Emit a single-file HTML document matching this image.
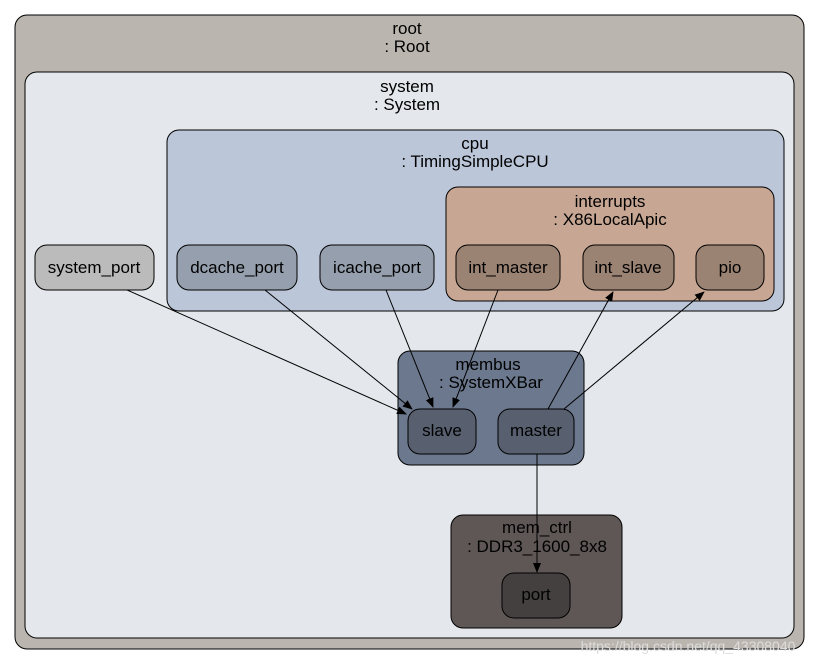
<!DOCTYPE html>
<html><head><style>body{margin:0;background:#fff}svg{display:block}text{font-family:"Liberation Sans",Arial,sans-serif;font-size:17px;fill:#000;text-anchor:middle}</style></head><body>
<svg width="819" height="664" viewBox="0 0 819 664">
<defs><marker id="a" markerWidth="10" markerHeight="8" refX="9" refY="4" orient="auto" markerUnits="userSpaceOnUse"><path d="M0,0L10,4L0,8z" fill="#000"/></marker></defs>
<g stroke="#000" stroke-width="1">
<rect x="15" y="15" width="789" height="634" rx="12" fill="#bab5ae"/>
<rect x="25" y="72" width="769" height="566" rx="12" fill="#e4e7eb"/>
<rect x="167" y="130" width="617" height="181" rx="12" fill="#bbc6d9"/>
<rect x="446" y="187" width="328" height="114" rx="12" fill="#c7a793"/>
<rect x="35" y="245" width="119" height="45" rx="12" fill="#bbbbbb"/>
<rect x="177" y="245" width="120" height="45" rx="12" fill="#959fad"/>
<rect x="320" y="245" width="114" height="45" rx="12" fill="#959fad"/>
<rect x="456" y="245" width="104" height="45" rx="12" fill="#9b8374"/>
<rect x="583" y="245" width="91" height="45" rx="12" fill="#9b8374"/>
<rect x="696" y="245" width="68" height="45" rx="12" fill="#9b8374"/>
<rect x="398" y="351" width="186" height="114" rx="12" fill="#6b788d"/>
<rect x="408" y="409" width="68" height="45" rx="12" fill="#586070"/>
<rect x="498" y="409" width="76" height="45" rx="12" fill="#586070"/>
<rect x="451" y="515" width="171" height="113" rx="12" fill="#5e5756"/>
<rect x="502" y="573" width="68" height="45" rx="12" fill="#454040"/>
</g>
<text x="407" y="34">root</text><text x="407" y="52">: Root</text>
<text x="407" y="92">system</text><text x="407" y="110">: System</text>
<text x="475" y="149">cpu</text><text x="475" y="167">: TimingSimpleCPU</text>
<text x="610" y="207">interrupts</text><text x="610" y="225">: X86LocalApic</text>
<text x="94" y="273">system_port</text>
<text x="237" y="273">dcache_port</text>
<text x="377" y="273">icache_port</text>
<text x="508" y="273">int_master</text>
<text x="628" y="273">int_slave</text>
<text x="730" y="273">pio</text>
<text x="488" y="370">membus</text><text x="491" y="388">: SystemXBar</text>
<text x="442" y="436">slave</text>
<text x="536" y="436">master</text>
<text x="537" y="533">mem_ctrl</text><text x="537" y="552">: DDR3_1600_8x8</text>
<text x="536" y="600">port</text>
<g stroke="#000" stroke-width="1" fill="none" marker-end="url(#a)">
<path d="M127,290 L406,414"/>
<path d="M265,290 L412,409"/>
<path d="M386,290 L433,407"/>
<path d="M498,290 L453,407"/>
<path d="M548,409 L613,292"/>
<path d="M564,409 L704,292"/>
<path d="M537,454 L537,572"/>
</g>
<text x="688" y="651" style="font-size:14px;fill:#ddd">https://blog.csdn.net/qq_43308040</text>
</svg>
</body></html>
